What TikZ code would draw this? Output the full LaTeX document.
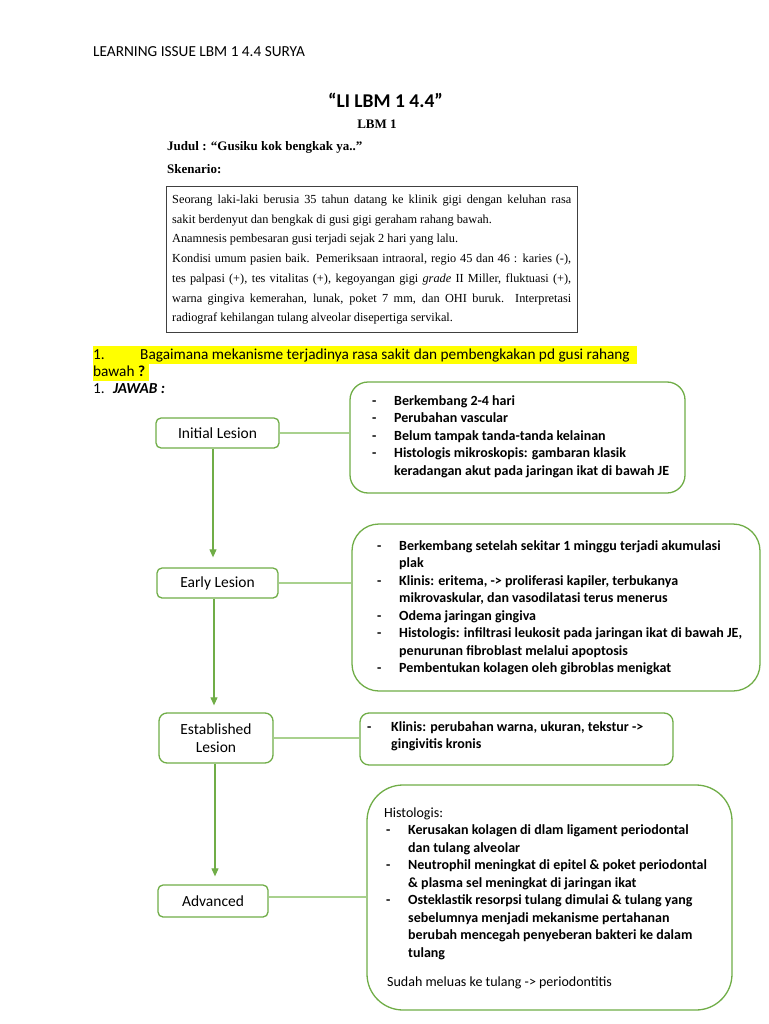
\documentclass[tikz,border=0pt]{standalone}
\usepackage{fontspec}
\setmainfont{Carlito}
\newfontfamily\timesfont{Liberation Serif}
\usetikzlibrary{arrows.meta,positioning,calc}

\definecolor{leafgreen}{HTML}{70AD47}
\definecolor{palegreen}{HTML}{A9D18E}
\definecolor{markyellow}{HTML}{FFFF00}

\newcommand{\dashln}[1]{\makebox[22pt][l]{-}#1}
\newcommand{\contln}[1]{\hspace*{22pt}#1}

\begin{document}
\begin{tikzpicture}[
  x=1pt, y=-1pt,
  txt/.style={anchor=base west, inner sep=0pt, font=\fontsize{15.3}{17}\selectfont},
  serif/.style={anchor=base west, inner sep=0pt, font=\timesfont\bfseries\fontsize{13}{15}\selectfont},
  stage/.style={
    draw=leafgreen, line width=1.3pt, rounded corners=5pt,
    fill=white, inner sep=0pt, align=center,
    font=\fontsize{15.5}{18}\selectfont
  },
  infobox/.style={draw=leafgreen, line width=1.3pt, fill=white, inner sep=0pt},
  note/.style={
    anchor=base west, align=left, inner sep=0pt,
    font=\bfseries\fontsize{14}{17.5}\selectfont
  },
  flow/.style={-{Triangle[width=7pt,length=8pt]}, draw=leafgreen, line width=1.1pt},
  tie/.style={draw=palegreen, line width=1.3pt},
]
\useasboundingbox (0,0) rectangle (768,1024);

%% page header
\node[txt] (hdr) at (93,57) {LEARNING ISSUE LBM 1 4.4 SURYA};
\node[anchor=base, inner sep=0pt, font=\bfseries\fontsize{19.5}{22}\selectfont]
  (title) at (385.5,107.5) {“LI LBM 1 4.4”};
\node[serif, anchor=base] (lbm) at (377,128.5) {LBM 1};
\node[serif] (judul) at (167,150.5) {Judul : “Gusiku kok bengkak ya..”};
\node[serif] (sken) at (167,173.5) {Skenario:};

%% scenario box (base anchor = last line)
\node[draw=black!75, line width=0.9pt, minimum width=411pt, minimum height=146pt,
  inner sep=0pt] (skbox) at (371.5,259) {};
\node[anchor=base west, align=left, inner sep=0pt,
  font=\timesfont\fontsize{12.3}{19.7}\selectfont] (sktext) at (172,321.7)
  {\makebox[399pt][s]{Seorang laki-laki berusia 35 tahun datang ke klinik gigi dengan keluhan rasa}\\
   sakit berdenyut dan bengkak di gusi gigi geraham rahang bawah.\\
   Anamnesis pembesaran gusi terjadi sejak 2 hari yang lalu.\\
   \makebox[399pt][s]{Kondisi umum pasien baik. Pemeriksaan intraoral, regio 45 dan 46 : karies (-),}\\
   \makebox[399pt][s]{tes palpasi (+), tes vitalitas (+), kegoyangan gigi \textit{grade} II Miller, fluktuasi (+),}\\
   \makebox[399pt][s]{warna gingiva kemerahan, lunak, poket 7 mm, dan OHI buruk. Interpretasi}\\
   radiograf kehilangan tulang alveolar disepertiga servikal.};

%% question
\fill[markyellow] (93,346) rectangle (637,364);
\fill[markyellow] (93,364) rectangle (149,381);
\node[txt] (qnum) at (93,359.5) {1.};
\node[txt] (qtext) at (140,359.5)
  {Bagaimana mekanisme terjadinya rasa sakit dan pembengkakan pd gusi rahang};
\node[txt] (qtail) at (93,376.5) {bawah \textbf{?}};
\node[txt] (anum) at (93,393.5) {1.};
\node[txt] (atext) at (113,393.5) {\textbf{\textit{JAWAB :}}};

%% lesion stages
\node[stage, minimum width=123pt, minimum height=30pt] (init) at (217.5,433) {Initial Lesion};
\node[stage, minimum width=121pt, minimum height=30pt] (early) at (217.5,583) {Early Lesion};
\node[stage, minimum width=114pt, minimum height=50pt, rounded corners=8pt]
  (estab) at (216,738) {Established\\Lesion};
\node[stage, minimum width=110pt, minimum height=32pt] (adv) at (213,901) {Advanced};

%% explanation boxes (note text: base anchor = last line)
\node[infobox, minimum width=335pt, minimum height=111pt, rounded corners=18pt]
  (ib1) at (517.5,437.5) {};
\node[note] (nt1) at (372,475)
  {\dashln{Berkembang 2-4 hari}\\
   \dashln{Perubahan vascular}\\
   \dashln{Belum tampak tanda-tanda kelainan}\\
   \dashln{Histologis mikroskopis: gambaran klasik}\\
   \contln{keradangan akut pada jaringan ikat di bawah JE}};

\node[infobox, minimum width=408pt, minimum height=167pt, rounded corners=27pt]
  (ib2) at (556,607.5) {};
\node[note] (nt2) at (377,672.5)
  {\dashln{Berkembang setelah sekitar 1 minggu terjadi akumulasi}\\
   \contln{plak}\\
   \dashln{Klinis: eritema, -> proliferasi kapiler, terbukanya}\\
   \contln{mikrovaskular, dan vasodilatasi terus menerus}\\
   \dashln{Odema jaringan gingiva}\\
   \dashln{Histologis: infiltrasi leukosit pada jaringan ikat di bawah JE,}\\
   \contln{penurunan fibroblast melalui apoptosis}\\
   \dashln{Pembentukan kolagen oleh gibroblas menigkat}};

\node[infobox, minimum width=313pt, minimum height=52pt, rounded corners=9pt]
  (ib3) at (516.5,739) {};
\node[note] (nt3) at (367,748.5)
  {\makebox[24pt][l]{-}Klinis: perubahan warna, ukuran, tekstur ->\\
   \hspace*{24pt}gingivitis kronis};

\node[infobox, minimum width=365pt, minimum height=225pt, rounded corners=36pt]
  (ib4) at (549.5,897.5) {};
\node[note] (nt4) at (384,986)
  {\mdseries Histologis:\\
   \hspace*{2pt}\dashln{Kerusakan kolagen di dlam ligament periodontal}\\
   \hspace*{2pt}\contln{dan tulang alveolar}\\
   \hspace*{2pt}\dashln{Neutrophil meningkat di epitel \& poket periodontal}\\
   \hspace*{2pt}\contln{\& plasma sel meningkat di jaringan ikat}\\
   \hspace*{2pt}\dashln{Osteklastik resorpsi tulang dimulai \& tulang yang}\\
   \hspace*{2pt}\contln{sebelumnya menjadi mekanisme pertahanan}\\
   \hspace*{2pt}\contln{berubah mencegah penyeberan bakteri ke dalam}\\
   \hspace*{2pt}\contln{tulang}\\[11.5pt]
   \hspace*{3pt}\mdseries Sudah meluas ke tulang -> periodontitis};

%% stage -> stage
\draw[flow, shorten >=10pt] ([xshift=-4.5pt]init.south) -- ([xshift=-4.5pt]init.south |- early.north);
\draw[flow, shorten >=7pt] ([xshift=-3.5pt]early.south) -- ([xshift=-3.5pt]early.south |- estab.north);
\draw[flow, shorten >=8pt] ([xshift=-1pt]estab.south) -- ([xshift=-1pt]estab.south |- adv.north);

%% stage -> explanation
\draw[tie] (init.east) -- (init.east -| ib1.west);
\draw[tie] (early.east) -- (early.east -| ib2.west);
\draw[tie] (estab.east) -- (estab.east -| ib3.west);
\draw[tie] ([yshift=4pt]adv.east) -- ([yshift=4pt]adv.east -| ib4.west);
\end{tikzpicture}
\end{document}
